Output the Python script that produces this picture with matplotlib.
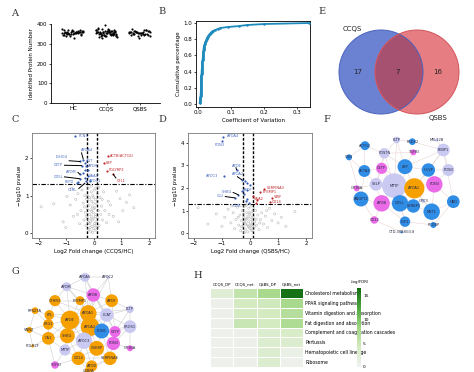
import matplotlib
matplotlib.use('Agg')
import matplotlib.pyplot as plt
import numpy as np
from matplotlib.patches import Circle
from matplotlib.colors import LinearSegmentedColormap

# ---------------- data ----------------
# A: identified protein numbers per sample
hc = [352, 358, 361, 347, 365, 370, 355, 349, 362, 356, 340, 368, 359, 344, 353, 372, 360, 350, 357, 363,
      338, 366, 354, 348, 362, 369, 345, 358, 351, 364, 330, 356, 361, 347, 373, 359, 352, 342, 367, 355]
ccqs = [355, 362, 348, 371, 340, 358, 366, 352, 345, 375, 360, 350, 338, 368, 357, 344, 364, 353, 381, 349,
        361, 335, 370, 356, 347, 363, 359, 342, 377, 351, 366, 332, 355, 346, 369, 358, 341, 362, 354, 373,
        349, 360, 337, 365, 352, 343, 395, 358, 347, 328, 362, 356, 351, 367, 344]
qsbs = [355, 360, 348, 365, 352, 342, 370, 357, 362, 346, 353, 368, 340, 358, 350, 363, 345, 356, 374, 349,
        361, 338, 354, 366, 351, 328, 359, 344, 357, 363, 352, 347, 371, 355, 360]
groups_a = ['HC', 'CCQS', 'QSBS']

# B: coefficient of variation of proteins (sorted)
cv_values = [0.0050, 0.0058, 0.0064, 0.0068, 0.0071, 0.0074, 0.0076, 0.0078, 0.0080, 0.0082, 0.0083, 0.0085,
             0.0086, 0.0087, 0.0089, 0.0090, 0.0091, 0.0092, 0.0094, 0.0095, 0.0096, 0.0097, 0.0099, 0.0100,
             0.0101, 0.0102, 0.0104, 0.0105, 0.0106, 0.0107, 0.0109, 0.0110, 0.0112, 0.0114, 0.0116, 0.0118,
             0.0120, 0.0122, 0.0124, 0.0127, 0.0129, 0.0132, 0.0135, 0.0138, 0.0141, 0.0144, 0.0147, 0.0150,
             0.0153, 0.0156, 0.0159, 0.0162, 0.0165, 0.0168, 0.0170, 0.0172, 0.0178, 0.0186, 0.0195, 0.0204,
             0.0214, 0.0225, 0.0237, 0.0250, 0.0262, 0.0275, 0.0290, 0.0310, 0.0330, 0.0355, 0.0380, 0.0410,
             0.0450, 0.0520, 0.0600, 0.0680, 0.0900, 0.1250, 0.1480, 0.2000, 0.3350]

# E: venn counts
venn_only_ccqs, venn_both, venn_only_qsbs = 17, 7, 16

# C: volcano CCQS/HC
c_grey = [(-1.92, 0.7), (-1.46, 0.78), (-1.12, 0.3), (-0.98, 0.98), (-0.86, 0.75), (-1.02, 0.15), (-0.74, 0.45),
          (-0.66, 0.9), (-0.58, 1.05), (-0.52, 0.25), (-0.47, 0.6), (-0.43, 1.15), (-0.39, 0.8), (-0.36, 0.35),
          (-0.33, 1.0), (-0.31, 0.55), (-0.29, 0.2), (-0.27, 0.9), (-0.25, 0.65), (-0.23, 0.4), (-0.21, 1.2),
          (-0.19, 0.1), (-0.18, 0.75), (-0.16, 0.5), (-0.15, 0.95), (-0.13, 0.3), (-0.12, 0.05), (-0.11, 0.62),
          (-0.1, 1.1), (-0.09, 0.45), (-0.08, 0.85), (-0.07, 0.18), (-0.06, 0.7), (-0.05, 0.35), (-0.04, 1.0),
          (-0.03, 0.55), (-0.02, 0.12), (-0.01, 0.8), (0.0, 0.4), (0.01, 1.15), (0.02, 0.25), (0.03, 0.68),
          (0.04, 0.08), (0.05, 0.9), (0.06, 0.5), (0.08, 0.3), (0.1, 0.78), (0.12, 1.05), (0.14, 0.42),
          (0.16, 0.6), (0.19, 0.2), (0.22, 0.95), (0.25, 0.5), (0.28, 0.72), (0.31, 0.35), (0.35, 1.1),
          (0.4, 0.6), (0.46, 0.28), (0.52, 0.85), (0.6, 0.75), (0.7, 0.45), (0.82, 1.12), (0.95, 0.92),
          (1.05, 0.6), (1.18, 0.82), (1.3, 1.02), (1.45, 0.68), (-0.2, 0.28), (-0.14, 0.15), (-0.08, 0.58),
          (-0.02, 0.95), (0.03, 0.2), (0.07, 1.2), (-0.17, 0.9), (-0.05, 0.02), (0.0, 0.65), (-0.11, 0.38),
          (-0.24, 1.0), (0.11, 0.15), (-0.28, 0.45), (0.18, 1.22), (-0.35, 0.7), (0.3, 0.9), (-0.6, 0.5),
          (0.55, 0.5), (-0.8, 1.2), (0.9, 0.3), (-0.15, 0.25), (0.05, 0.45), (-0.09, 1.25), (0.13, 0.85)]
c_down = [(-0.67, 2.58), (-0.39, 1.96), (-0.51, 1.91), (-0.45, 1.80), (-0.33, 1.87), (-0.27, 1.80),
          (-0.33, 1.69), (-0.51, 1.57), (-0.39, 1.60), (-0.51, 1.45), (-0.33, 1.48), (-0.21, 1.53),
          (-0.27, 1.38), (-0.57, 1.36), (-0.63, 1.33), (-0.15, 1.38), (-0.21, 1.69)]
c_up = [(0.51, 2.05), (0.36, 1.87), (0.46, 1.66), (0.70, 1.57)]
c_down_labels = [('FCN3', -0.55, 2.6, 'left'), ('APOA4', -0.47, 2.22, 'left'), ('IGHG4', -0.95, 2.03, 'right'),
                 ('CETP', -1.12, 1.81, 'right'), ('AGT', -0.29, 1.93, 'left'), ('APOH', -0.22, 1.79, 'left'),
                 ('APOM', -0.62, 1.63, 'right'), ('CD5L', -1.12, 1.49, 'right'), ('SAA4', -0.18, 1.52, 'left'),
                 ('APOC1', -0.18, 1.39, 'left'), ('PEPD', -0.74, 1.36, 'right'), ('C1RL', -0.6, 1.15, 'right')]
c_up_labels = [('ACTB(ACTG1)', 0.58, 2.06, 'left'), ('LBP', 0.43, 1.88, 'left'),
               ('PGLYRP2', 0.53, 1.67, 'left'), ('CFL1', 0.84, 1.4, 'left')]

# D: volcano QSBS/HC
d_grey = [(-1.85, 1.12), (-1.5, 0.4), (-1.2, 0.85), (-1.0, 0.3), (-0.9, 0.7), (-0.78, 1.05), (-0.68, 0.45),
          (-0.6, 0.9), (-0.55, 0.2), (-0.5, 0.6), (-0.45, 1.15), (-0.4, 0.35), (-0.36, 0.8), (-0.33, 0.1),
          (-0.3, 0.55), (-0.27, 1.0), (-0.25, 0.3), (-0.22, 0.7), (-0.2, 0.45), (-0.18, 1.2), (-0.16, 0.15),
          (-0.14, 0.62), (-0.12, 0.9), (-0.1, 0.35), (-0.08, 0.05), (-0.07, 0.75), (-0.05, 0.5), (-0.04, 1.1),
          (-0.02, 0.25), (0.0, 0.85), (0.01, 0.4), (0.03, 0.6), (0.05, 0.12), (0.07, 0.95), (0.09, 0.3),
          (0.11, 0.7), (0.14, 0.2), (0.17, 0.5), (0.2, 1.0), (0.24, 0.35), (0.28, 0.8), (0.32, 0.15),
          (0.37, 0.6), (0.42, 0.9), (0.48, 0.4), (0.55, 0.75), (0.62, 0.25), (0.7, 1.1), (0.78, 0.55),
          (0.88, 0.85), (1.0, 0.45), (1.12, 0.7), (1.28, 0.3), (1.6, 0.95), (-0.2, 0.02), (-0.1, 0.65),
          (0.0, 0.2), (0.04, 1.2), (-0.15, 0.4), (0.08, 0.48), (-0.3, 0.28), (0.12, 1.05), (-0.06, 0.3),
          (0.02, 0.72), (-0.24, 0.85), (0.16, 0.3), (-0.12, 1.25), (0.22, 0.62), (-0.42, 0.7), (0.35, 0.45),
          (-0.65, 1.2), (0.6, 1.0), (-0.18, 0.55), (0.06, 0.35), (-0.03, 0.9), (0.1, 0.1)]
d_down = [(-0.95, 4.25), (-0.99, 4.1), (-0.48, 2.81), (-0.92, 2.52), (-0.30, 2.37), (-0.18, 2.31),
          (-0.12, 2.22), (0.01, 2.15), (-0.42, 1.70), (-0.28, 1.88), (-0.54, 1.56), (-0.12, 1.9),
          (-0.2, 1.75), (-0.1, 1.5), (-0.15, 1.4), (-0.05, 1.35)]
d_up = [(0.51, 1.97), (0.36, 1.82), (0.12, 1.63), (0.8, 1.56), (0.71, 1.38), (0.24, 1.48), (0.2, 1.33)]
d_down_labels = [('APOA4', -0.82, 4.3, 'left'), ('PON3', -1.25, 3.92, 'left'), ('APOE', -0.64, 2.98, 'left'),
                 ('APOC3', -1.12, 2.53, 'right'), ('APOA2', -0.64, 2.6, 'left'), ('SHBG', -0.64, 1.82, 'right'),
                 ('APOF', -0.24, 1.9, 'left'), ('CLU', -0.92, 1.64, 'right'), ('C1RL', -0.62, 1.18, 'left')]
d_up_labels = [('SERPINA3', 0.6, 2.01, 'left'), ('EFEMP1', 0.46, 1.82, 'left'), ('SAA2', 0.12, 1.5, 'left'),
               ('VWF', 0.84, 1.6, 'left'), ('CD14', 0.76, 1.36, 'left')]

# F network (CCQS)
f_names = ['PLTP', 'PRDX2', 'MYL12B', 'ACTG2', 'GSN', 'POSTN', 'TGFBI', 'PEBP1', 'ACTA2', 'CETP', 'LBP',
           'HCVP', 'POSD', 'SELP', 'MTTP', 'APOA1', 'PON3', 'GP1BA', 'ANGPT2', 'APOB', 'CD5L', 'SERBP1',
           'GPC3', 'MST1', 'HBD', 'CD14', 'IGF2', 'CTD-3088G3.8', 'FCGBP']
f_group = ['lav', 'blue', 'lav', 'blue', 'blue', 'lav', 'mag', 'lav', 'blue', 'mag', 'blue',
           'blue', 'lav', 'lav', 'lav', 'org', 'mag', 'mag', 'blue', 'mag', 'blue', 'blue',
           'lav', 'blue', 'blue', 'mag', 'blue', 'blue', 'blue']
f_degree = [9, 9, 4, 12, 8, 14, 8, 17, 16, 15, 20, 18, 16, 17, 33, 27, 22, 8, 20, 22, 22, 18, 5, 22, 17,
            10, 14, 3, 8]
f_edges = [('PLTP', 'POSTN'), ('PLTP', 'LBP'), ('PLTP', 'MTTP'), ('PLTP', 'PRDX2'), ('PRDX2', 'PEBP1'),
           ('MYL12B', 'PEBP1'), ('PEBP1', 'HCVP'), ('PEBP1', 'POSD'), ('PEBP1', 'APOA1'), ('PEBP1', 'LBP'),
           ('PEBP1', 'HBD'), ('ACTG2', 'POSTN'), ('ACTG2', 'ACTA2'), ('ACTG2', 'GSN'), ('GSN', 'ACTA2'),
           ('POSTN', 'CETP'), ('POSTN', 'LBP'), ('POSTN', 'MTTP'), ('POSTN', 'SELP'), ('TGFBI', 'LBP'),
           ('TGFBI', 'POSTN'), ('ACTA2', 'CETP'), ('ACTA2', 'SELP'), ('ACTA2', 'ANGPT2'), ('CETP', 'MTTP'),
           ('CETP', 'APOA1'), ('CETP', 'SELP'), ('LBP', 'MTTP'), ('LBP', 'APOA1'), ('LBP', 'HCVP'),
           ('LBP', 'CD5L'), ('HCVP', 'APOA1'), ('HCVP', 'POSD'), ('HCVP', 'PON3'), ('POSD', 'PON3'),
           ('SELP', 'MTTP'), ('SELP', 'APOB'), ('SELP', 'GP1BA'), ('MTTP', 'APOA1'), ('MTTP', 'APOB'),
           ('MTTP', 'CD5L'), ('MTTP', 'SERBP1'), ('MTTP', 'IGF2'), ('APOA1', 'PON3'), ('APOA1', 'CD5L'),
           ('APOA1', 'SERBP1'), ('APOA1', 'MST1'), ('APOA1', 'GPC3'), ('PON3', 'HBD'), ('PON3', 'MST1'),
           ('GP1BA', 'ANGPT2'), ('ANGPT2', 'APOB'), ('ANGPT2', 'CD14'), ('APOB', 'CD5L'), ('APOB', 'CD14'),
           ('APOB', 'IGF2'), ('CD5L', 'SERBP1'), ('CD5L', 'IGF2'), ('SERBP1', 'MST1'), ('GPC3', 'MST1'),
           ('MST1', 'FCGBP'), ('MST1', 'HBD'), ('IGF2', 'CTD-3088G3.8'), ('IGF2', 'FCGBP'),
           ('CD14', 'CTD-3088G3.8'), ('HBD', 'FCGBP'), ('GSN', 'ANGPT2'), ('MTTP', 'PON3')]

# G network (QSBS)
g_names = ['APOA5', 'APOC2', 'APOM', 'APOB', 'CFHR3', 'EFEMP1', 'APOF', 'RPS27A', 'APOA1', 'LCAT', 'PLTP',
           'LPL', 'APOE', 'LRG1', 'APOA2', 'PON1', 'CETP', 'PROS1', 'VNN2', 'CA1', 'SHBG', 'APOC3', 'PON3',
           'POLR2F', 'CHERP', 'GP1BA', 'MTTP', 'CD14', 'SERPINA6', 'TGFBI', 'APOD', 'C4BPA']
g_group = ['lav', 'lav', 'lav', 'mag', 'org', 'org', 'org', 'org', 'org', 'lav', 'lav',
           'org', 'org', 'org', 'org', 'blue', 'mag', 'lav', 'org', 'org', 'org', 'lav', 'mag',
           'org', 'org', 'mag', 'lav', 'org', 'org', 'mag', 'org', 'org']
g_degree = [12, 4, 12, 18, 15, 12, 17, 9, 22, 18, 10, 13, 25, 14, 25, 20, 15, 17, 8, 17, 20, 22, 18,
            4, 20, 8, 15, 18, 18, 10, 15, 10]
g_edges = [('APOA5', 'APOM'), ('APOA5', 'APOB'), ('APOA5', 'APOA1'), ('APOA5', 'APOC2'), ('APOA5', 'LCAT'),
           ('APOC2', 'APOB'), ('APOC2', 'APOF'), ('APOC2', 'APOA1'), ('APOM', 'APOB'), ('APOM', 'APOA1'),
           ('APOM', 'APOE'), ('APOM', 'CFHR3'), ('APOM', 'EFEMP1'), ('APOB', 'APOA1'), ('APOB', 'APOE'),
           ('APOB', 'APOF'), ('APOB', 'LCAT'), ('APOB', 'APOA2'), ('APOB', 'MTTP'), ('APOB', 'CETP'),
           ('CFHR3', 'APOE'), ('CFHR3', 'LPL'), ('CFHR3', 'EFEMP1'), ('CFHR3', 'APOA1'), ('EFEMP1', 'APOA1'),
           ('EFEMP1', 'APOE'), ('APOF', 'APOA1'), ('APOF', 'LCAT'), ('APOF', 'CETP'), ('APOF', 'PLTP'),
           ('RPS27A', 'LPL'), ('RPS27A', 'LRG1'), ('RPS27A', 'VNN2'), ('APOA1', 'LCAT'), ('APOA1', 'APOE'),
           ('APOA1', 'APOA2'), ('APOA1', 'PON1'), ('APOA1', 'CETP'), ('APOA1', 'PLTP'), ('APOA1', 'APOC3'),
           ('APOA1', 'SHBG'), ('APOA1', 'LPL'), ('LCAT', 'PLTP'), ('LCAT', 'PON1'), ('LCAT', 'APOA2'),
           ('LCAT', 'PROS1'), ('LCAT', 'CETP'), ('PLTP', 'PROS1'), ('PLTP', 'CETP'), ('LPL', 'APOE'),
           ('LPL', 'LRG1'), ('LPL', 'CA1'), ('APOE', 'APOA2'), ('APOE', 'SHBG'), ('APOE', 'LRG1'),
           ('APOE', 'APOC3'), ('APOE', 'CA1'), ('APOE', 'MTTP'), ('LRG1', 'CA1'), ('LRG1', 'SHBG'),
           ('LRG1', 'VNN2'), ('APOA2', 'PON1'), ('APOA2', 'APOC3'), ('APOA2', 'SHBG'), ('APOA2', 'CHERP'),
           ('APOA2', 'CETP'), ('APOA2', 'CD14'), ('PON1', 'CETP'), ('PON1', 'PON3'), ('PON1', 'CHERP'),
           ('PON1', 'PROS1'), ('PON1', 'APOC3'), ('PON1', 'SERPINA6'), ('CETP', 'PROS1'), ('CETP', 'PON3'),
           ('PROS1', 'PON3'), ('PROS1', 'GP1BA'), ('VNN2', 'CA1'), ('VNN2', 'POLR2F'), ('CA1', 'SHBG'),
           ('CA1', 'MTTP'), ('CA1', 'POLR2F'), ('CA1', 'TGFBI'), ('SHBG', 'APOC3'), ('SHBG', 'MTTP'),
           ('SHBG', 'CD14'), ('APOC3', 'CHERP'), ('APOC3', 'CD14'), ('APOC3', 'MTTP'), ('APOC3', 'APOD'),
           ('PON3', 'CHERP'), ('PON3', 'SERPINA6'), ('PON3', 'GP1BA'), ('CHERP', 'SERPINA6'),
           ('CHERP', 'CD14'), ('CHERP', 'APOD'), ('MTTP', 'CD14'), ('MTTP', 'TGFBI'), ('CD14', 'APOD'),
           ('CD14', 'SERPINA6'), ('CD14', 'TGFBI'), ('SERPINA6', 'APOD'), ('APOD', 'C4BPA'),
           ('CD14', 'C4BPA'), ('SERPINA6', 'C4BPA')]

# H: pathway enrichment, -log(FDR)
h_cols = ['CCQS_DP', 'CCQS_net', 'QSBS_DP', 'QSBS_net']
h_rows = ['Cholesterol metabolism', 'PPAR signaling pathway', 'Vitamin digestion and absorption',
          'Fat digestion and absorption', 'Complement and coagulation cascades', 'Pertussis',
          'Hematopoietic cell lineage', 'Ribosome']
h_vals = [[2.5, 5.5, 7.5, 16.0],
          [0.6, 4.0, 4.5, 7.5],
          [0.6, 4.0, 4.0, 6.5],
          [0.6, 5.0, 4.0, 7.0],
          [0.4, 0.6, 3.0, 3.5],
          [0.4, 0.6, 3.0, 3.0],
          [0.4, 0.6, 3.0, 1.0],
          [0.4, 0.6, 3.0, 0.5]]

# ---------------- layout ----------------
f_pos = {'PLTP': (185, 45), 'PRDX2': (232, 50), 'MYL12B': (305, 45), 'ACTG2': (90, 62), 'GSN': (42, 97),
         'POSTN': (148, 85), 'TGFBI': (235, 82), 'PEBP1': (325, 75), 'ACTA2': (88, 138), 'CETP': (140, 130),
         'LBP': (210, 125), 'HCVP': (280, 135), 'POSD': (340, 135), 'SELP': (123, 178), 'MTTP': (178, 182),
         'APOA1': (238, 190), 'PON3': (298, 178), 'GP1BA': (65, 190), 'ANGPT2': (78, 222), 'APOB': (140, 235),
         'CD5L': (195, 235), 'SERBP1': (235, 243), 'GPC3': (265, 228), 'MST1': (290, 260), 'HBD': (355, 230),
         'CD14': (118, 285), 'IGF2': (210, 290), 'CTD-3088G3.8': (200, 322), 'FCGBP': (295, 300)}
g_pos = {'APOA5': (225, 22), 'APOC2': (295, 22), 'APOM': (170, 50), 'APOB': (250, 75), 'CFHR3': (135, 92),
         'EFEMP1': (210, 92), 'APOF': (305, 92), 'RPS27A': (75, 122), 'APOA1': (235, 130), 'LCAT': (290, 135),
         'PLTP': (360, 118), 'LPL': (118, 135), 'APOE': (180, 150), 'LRG1': (115, 163), 'APOA2': (240, 170),
         'PON1': (275, 183), 'CETP': (315, 185), 'PROS1': (360, 170), 'VNN2': (58, 180), 'CA1': (115, 205),
         'SHBG': (172, 197), 'APOC3': (222, 212), 'PON3': (310, 220), 'POLR2F': (68, 228), 'CHERP': (260, 235),
         'GP1BA': (360, 235), 'MTTP': (165, 240), 'CD14': (205, 265), 'SERPINA6': (300, 265),
         'TGFBI': (135, 285), 'APOD': (245, 288), 'C4BPA': (235, 302)}
node_colors = {'blue': '#2f8de6', 'lav': '#c9c9f2', 'mag': '#ea6ae8', 'org': '#f6a000'}

W, H = 474, 372
fig = plt.figure(figsize=(W / 100, H / 100), dpi=100)


def px_axes(x0, y0, x1, y1):
    return fig.add_axes([x0 / W, 1 - y1 / H, (x1 - x0) / W, (y1 - y0) / H])


def letter(x, y, s):
    fig.text(x / W, 1 - y / H, s, family='DejaVu Serif', fontsize=7, va='center', ha='center', color='#333333')


def small_ticks(ax):
    ax.tick_params(labelsize=4, length=1.5, width=0.5, pad=1)
    for sp in ax.spines.values():
        sp.set_linewidth(0.6)


# ---- A ----
axA = px_axes(51, 24, 160, 103)
for i, vals in enumerate([hc, ccqs, qsbs]):
    n = len(vals)
    off = ((np.arange(n) * 0.618034) % 1 - 0.5) * 0.65
    axA.scatter(i + off, vals, s=2.4, c='black', lw=0, zorder=3)
axA.set_xlim(-0.66, 2.6)
axA.set_ylim(0, 400)
axA.set_yticks([0, 100, 200, 300, 400])
axA.set_xticks([0, 1, 2])
axA.set_xticklabels(groups_a)
axA.spines['top'].set_visible(False)
axA.spines['right'].set_visible(False)
axA.set_ylabel('Identified Protein Number', fontsize=4, labelpad=2)
small_ticks(axA)
letter(15, 13, 'A')

# ---- B ----
axB = px_axes(196, 21, 310, 107)
cum = np.arange(1, len(cv_values) + 1) / len(cv_values)
axB.plot(cv_values, cum, color='#1f8bbd', lw=1.3, zorder=2)
axB.scatter(cv_values, cum, s=3.5, color='#1f8bbd', lw=0, zorder=3)
axB.set_xlim(-0.006, 0.339)
axB.set_ylim(-0.037, 1.025)
axB.set_xticks([0.0, 0.1, 0.2, 0.3])
axB.set_yticks([0.0, 0.2, 0.4, 0.6, 0.8, 1.0])
axB.set_xlabel('Coefficient of Variation', fontsize=4, labelpad=2)
axB.set_ylabel('Cumulative percentage', fontsize=4, labelpad=2)
small_ticks(axB)
letter(162, 11, 'B')

# ---- E (venn) ----
axE = px_axes(335, 20, 474, 130)
axE.set_xlim(335, 474)
axE.set_ylim(130, 20)
axE.axis('off')
axE.add_patch(Circle((381, 72), 42, fc='#6b82d2', ec='none'))
axE.add_patch(Circle((417, 72), 42, fc='#e57d82', ec='none'))
mid = Circle((417, 72), 42, fc='#a65170', ec='none')
axE.add_patch(mid)
mid.set_clip_path(Circle((381, 72), 42, transform=axE.transData))
axE.add_patch(Circle((381, 72), 42, fc='none', ec='#4a62bd', lw=0.7))
axE.add_patch(Circle((417, 72), 42, fc='none', ec='#d4545c', lw=0.7))
axE.text(358, 72, str(venn_only_ccqs), fontsize=5, ha='center', va='center', color='#222222')
axE.text(398, 72, str(venn_both), fontsize=5, ha='center', va='center', color='#222222')
axE.text(438, 72, str(venn_only_qsbs), fontsize=5, ha='center', va='center', color='#222222')
axE.text(352, 29, 'CCQS', fontsize=5, ha='center', va='center', color='#222222')
axE.text(438, 118, 'QSBS', fontsize=5, ha='center', va='center', color='#222222')
letter(322, 12, 'E')


# ---- C and D (volcano) ----
def volcano(ax, grey, down, up, down_labels, up_labels, xlabel):
    g = np.array(grey)
    dn = np.array(down)
    upa = np.array(up)
    ax.scatter(g[:, 0], g[:, 1], s=2.5, facecolor='none', edgecolor='#a8a8a8', lw=0.3, zorder=2)
    ax.scatter(dn[:, 0], dn[:, 1], s=2.5, color='#3459b5', lw=0, zorder=3)
    ax.scatter(upa[:, 0], upa[:, 1], s=2.5, color='#c0282c', lw=0, zorder=3)
    for name, x, y, ha in down_labels:
        ax.text(x, y, name, fontsize=2.6, color='#4a6cc2', ha=ha, va='center', zorder=4)
    for name, x, y, ha in up_labels:
        ax.text(x, y, name, fontsize=2.6, color='#c0282c', ha=ha, va='center', zorder=4)
    ax.axhline(1.301, color='black', lw=0.8, ls=(0, (4, 1.5, 1, 1.5)), zorder=1)
    ax.axvline(-0.24, color='black', lw=1.0, ls=(0, (2, 1.2)), zorder=1)
    ax.axvline(0.1, color='black', lw=1.0, ls=(0, (2, 1.2)), zorder=1)
    ax.set_xticks([-2, -1, 0, 1, 2])
    ax.set_xlabel(xlabel, fontsize=4, labelpad=2)
    ax.set_ylabel('\u2212log10 pvalue', fontsize=4, labelpad=2)
    small_ticks(ax)
    for sp in ax.spines.values():
        sp.set_color('#777777')


axC = px_axes(32, 133, 155, 238)
volcano(axC, c_grey, c_down, c_up, c_down_labels, c_up_labels, 'Log2 Fold change (CCQS/HC)')
axC.set_xlim(-2.25, 2.22)
axC.set_ylim(-0.13, 2.67)
axC.set_yticks([0, 1, 2])
# leader lines
for (x0, y0), (x1, y1) in [((-0.9, 1.93), (-0.51, 1.91)), ((-1.07, 1.81), (-0.45, 1.80)),
                           ((-0.58, 1.62), (-0.51, 1.57)), ((-1.07, 1.5), (-0.51, 1.45)),
                           ((-0.55, 1.19), (-0.33, 1.33)), ((-0.45, 2.14), (-0.39, 1.98)),
                           ((0.8, 1.47), (0.70, 1.57))]:
    axC.plot([x0, x1], [y0, y1], color='black', lw=0.7, zorder=3)
letter(15, 120, 'C')

axD = px_axes(188, 133, 312, 238)
volcano(axD, d_grey, d_down, d_up, d_down_labels, d_up_labels, 'Log2 Fold change (QSBS/HC)')
axD.set_xlim(-2.21, 2.21)
axD.set_ylim(-0.22, 4.44)
axD.set_yticks([0, 1, 2, 3, 4])
for (x0, y0), (x1, y1) in [((-0.45, 2.5), (-0.30, 2.37)), ((-0.6, 1.8), (-0.42, 1.70)),
                           ((-0.88, 1.62), (-0.54, 1.56)), ((-0.5, 2.9), (-0.48, 2.81))]:
    axD.plot([x0, x1], [y0, y1], color='black', lw=0.7, zorder=3)
letter(162, 120, 'D')


# ---- F and G (networks) ----
def network(ax, names, groups, sizes, pos, edges, ecol):
    for a, b in edges:
        (x0, y0), (x1, y1) = pos[a], pos[b]
        ax.plot([x0, x1], [y0, y1], color=ecol, lw=0.35, zorder=1)
    for name, grp, r in zip(names, groups, sizes):
        x, y = pos[name]
        ax.add_patch(Circle((x, y), r * 1.12, fc=node_colors[grp], ec='none', zorder=2))
        ax.text(x, y, name, fontsize=2.6, ha='center', va='center', color='#2a2a45', zorder=3)


axF = px_axes(335, 125, 474, 240)
axF.set_xlim(0, 417)
axF.set_ylim(345, 0)
axF.axis('off')
network(axF, f_names, f_group, f_degree, f_pos, f_edges, '#e6cfcc')
letter(327, 120, 'F')

axG = px_axes(10, 270, 150, 372)
axG.set_xlim(0, 420)
axG.set_ylim(306, 0)
axG.axis('off')
network(axG, g_names, g_group, g_degree, g_pos, g_edges, '#c8c8c8')
letter(15, 272, 'G')

# ---- H (heatmap) ----
axH = px_axes(210, 288, 303, 367)
cmap = LinearSegmentedColormap.from_list('gr', ['#f1f1f1', '#d3ebc1', '#9fd581', '#4fa63f', '#0f6a12'])
mesh = axH.pcolormesh(np.array(h_vals), cmap=cmap, vmin=0, vmax=16.5, edgecolors='white', linewidth=0.5)
axH.set_ylim(len(h_rows), 0)
axH.set_xticks(np.arange(len(h_cols)) + 0.5)
axH.set_xticklabels(h_cols)
axH.xaxis.tick_top()
axH.set_yticks(np.arange(len(h_rows)) + 0.5)
axH.set_yticklabels(h_rows)
axH.yaxis.tick_right()
axH.tick_params(axis='x', labelsize=2.8, length=0, pad=1)
axH.tick_params(axis='y', labelsize=3.3, length=0, pad=1.5)
for sp in axH.spines.values():
    sp.set_visible(False)
cax = px_axes(357, 288, 361, 367)
cb = fig.colorbar(mesh, cax=cax)
cb.set_ticks([0, 5, 10, 15])
cb.outline.set_visible(False)
cax.tick_params(labelsize=3.2, length=0, pad=1.5)
fig.text(360 / W, 1 - 282 / H, '-log(FDR)', fontsize=2.8, ha='center', va='center')
letter(198, 275, 'H')

fig.savefig('out.png', dpi=100)
